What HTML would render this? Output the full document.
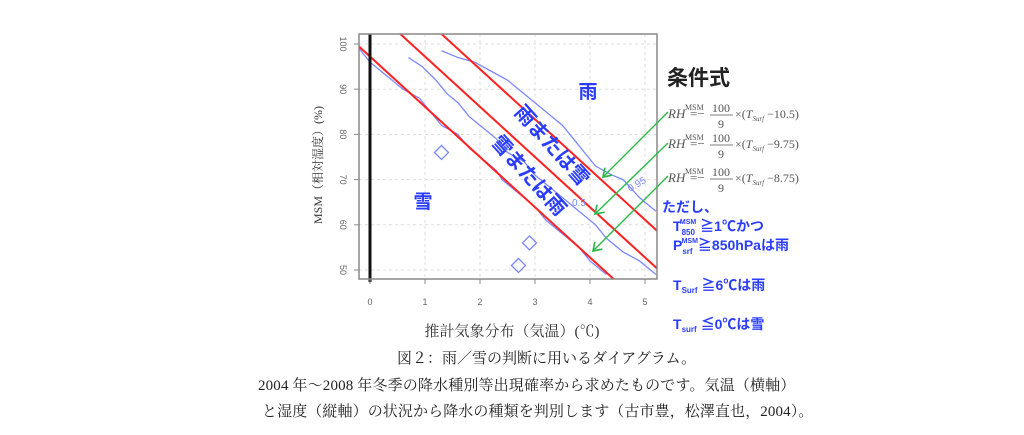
<!DOCTYPE html>
<html><head><meta charset="utf-8">
<style>
html,body{margin:0;padding:0;background:#fff;}
body{width:1024px;height:435px;overflow:hidden;position:relative;font-family:"Liberation Serif","Noto Serif CJK SC",serif;}
.cap{position:absolute;white-space:nowrap;font-size:15px;color:#222;font-family:"Liberation Serif","Noto Serif CJK SC",serif;}
</style></head>
<body>
<svg id="chart" width="1024" height="435" style="position:absolute;left:0;top:0">
  <g id="grid"></g>
  <g id="contours"></g>
  <g id="lines"></g>
  <g id="axes"></g>
  <g id="ann"></g>
</svg>
<div class="cap" style="left:397px;top:347px;">図２：雨／雪の判断に用いるダイアグラム。</div>
<div class="cap" style="left:258px;top:374px;letter-spacing:0.15px">2004 年～2008 年冬季の降水種別等出現確率から求めたものです。気温（横軸）</div>
<div class="cap" style="left:262px;top:400px;letter-spacing:0.1px">と湿度（縦軸）の状況から降水の種類を判別します（古市豊，松澤直也，2004）。</div>
<script>
const xTicks=[0,1,2,3,4,5];
const yTicks=[50,60,70,80,90,100];
const lineConsts=[10.5,9.75,8.75];
const contourUpper=[[1.3,98.5],[1.6,97],[1.9,96],[2.2,94],[2.5,92],[2.7,90],[2.9,88],[3.1,86],[3.3,84],[3.5,82],[3.7,79],[3.9,76],[4.1,73],[4.4,71],[4.6,70],[4.9,66],[5.1,64],[5.2,63]];
const contourMid=[[0.7,97],[0.95,95],[1.2,92],[1.4,89],[1.6,87],[1.8,84],[2.0,82],[2.3,79],[2.5,76],[2.8,74],[3.0,71],[3.2,69],[3.5,66],[3.8,63],[4.1,60],[4.3,57],[4.6,54],[4.9,52],[5.1,50],[5.2,49]];
const contourLower=[[-0.2,99],[0.0,96],[0.3,93],[0.6,90],[0.9,88],[1.1,85],[1.3,82],[1.6,80],[1.8,77],[2.0,75],[2.3,72],[2.4,70],[2.7,67],[3.0,64],[3.2,61],[3.5,58],[3.8,55],[4.0,52],[4.2,50],[4.3,49]];
const diamonds=[[1.3,76],[2.9,56],[2.7,51]];
const X0=370,XS=55,Y0=44,YS=4.52;
const L=359,R=657,T=34,B=279;
function sx(v){return X0+v*XS;}
function sy(v){return Y0+(100-v)*YS;}
const NS="http://www.w3.org/2000/svg";
function mk(tag,attrs,parent,text){const e=document.createElementNS(NS,tag);for(const k in attrs)e.setAttribute(k,attrs[k]);if(text!==undefined)e.textContent=text;document.getElementById(parent).appendChild(e);return e;}
const defs=document.createElementNS(NS,'defs');defs.innerHTML='<clipPath id="pc"><rect x="'+L+'" y="'+T+'" width="'+(R-L)+'" height="'+(B-T)+'"/></clipPath><marker id="ah" markerWidth="8" markerHeight="8" refX="6" refY="4" orient="auto"><path d="M0,0 L6,4 L0,8" fill="none" stroke="#2db84a" stroke-width="1.2"/></marker>';
document.getElementById('chart').prepend(defs);
['grid','contours','lines'].forEach(id=>document.getElementById(id).setAttribute('clip-path','url(#pc)'));
xTicks.forEach(v=>{const e=mk('line',{x1:sx(v),x2:sx(v),y1:T,y2:B,stroke:'#ddd','stroke-dasharray':'3,3'},'grid');});
yTicks.forEach(v=>{const e=mk('line',{x1:L,x2:R,y1:sy(v),y2:sy(v),stroke:'#ddd','stroke-dasharray':'3,3'},'grid');});
function poly(arr,name){const p=mk('polyline',{points:arr.map(d=>sx(d[0])+','+sy(d[1])).join(' '),fill:'none',stroke:'#7b88ff','stroke-width':1.3},'contours');}
poly(contourUpper,'contour-0.95');poly(contourMid,'contour-0.5');poly(contourLower,'contour-0.05');
diamonds.forEach(d=>{const cx=sx(d[0]),cy=sy(d[1]);const e=mk('polygon',{points:`${cx},${cy-7} ${cx+7},${cy} ${cx},${cy+7} ${cx-7},${cy}`,fill:'none',stroke:'#7b88ff','stroke-width':1.3},'contours');});
lineConsts.forEach(c=>{const t1=-1,t2=6;const e=mk('line',{x1:sx(t1),y1:sy(-100/9*(t1-c)),x2:sx(t2),y2:sy(-100/9*(t2-c)),stroke:'#ff2020','stroke-width':2},'lines');});
let z=mk('line',{x1:sx(0),x2:sx(0),y1:T,y2:B+3,stroke:'#111','stroke-width':3},'axes');
let fr=mk('rect',{x:L,y:T,width:R-L,height:B-T,fill:'none',stroke:'#888','stroke-width':1.5},'axes');
xTicks.forEach(v=>{let t=mk('line',{x1:sx(v),x2:sx(v),y1:B,y2:B+5,stroke:'#888'},'axes');
 let l=mk('text',{x:sx(v),y:B+26,'font-size':9,'text-anchor':'middle',fill:'#666','font-family':'Liberation Sans,sans-serif'},'axes',v);});
yTicks.forEach(v=>{let t=mk('line',{x1:L-5,x2:L,y1:sy(v),y2:sy(v),stroke:'#888'},'axes');
 let l=mk('text',{x:0,y:0,'font-size':9,'text-anchor':'middle',fill:'#666','font-family':'Liberation Sans,sans-serif',transform:`translate(340,${sy(v)}) rotate(90)`},'axes',v);});
let xt=mk('text',{x:512,y:336,'font-size':15,'text-anchor':'middle',fill:'#333'},'axes','推計気象分布（気温）(℃)');
let yt=mk('text',{x:0,y:0,'font-size':12,'text-anchor':'middle',fill:'#333',transform:'translate(322,165) rotate(-90)'},'axes','MSM（相対湿度）(%)');
const blue='#2a3cff',bf='Liberation Sans,Noto Sans CJK JP,sans-serif';
function txt(s,a,name){let e=mk('text',a,'ann',s);return e;}
txt('雨',{x:588,y:98,'font-size':19,'font-weight':'bold',fill:blue,'text-anchor':'middle','font-family':bf},'rain-label');
txt('雪',{x:423,y:208,'font-size':19,'font-weight':'bold',fill:blue,'text-anchor':'middle','font-family':bf},'snow-label');
txt('雨または雪',{x:0,y:0,'font-size':20,'font-weight':'bold',fill:blue,'text-anchor':'middle','font-family':bf,transform:'translate(547,150) rotate(48)'},'rain-or-snow-label');
txt('雪または雨',{x:0,y:0,'font-size':20,'font-weight':'bold',fill:blue,'text-anchor':'middle','font-family':bf,transform:'translate(524,180) rotate(48)'},'snow-or-rain-label');
txt('0.5',{x:572,y:206,'font-size':10,fill:'#7b88ff','font-family':bf},'contour-label-0.5');
txt('0.95',{x:630,y:192,'font-size':10,fill:'#7b88ff','font-family':bf,transform:'rotate(-30 630 192)'},'contour-label-0.95');
txt('条件式',{x:667,y:85,'font-size':21,'font-weight':'bold',fill:'#222','font-family':bf},'conditions-title');
const fy=[118,148,182],fc=['10.5','9.75','8.75'];
fc.forEach((c,i)=>{const y=fy[i];const g=mk('g',{fill:'#555','font-family':'Liberation Serif,serif'},'ann');
 g.innerHTML=`<text x="668" y="${y}" font-size="13" font-style="italic">RH</text><text x="685" y="${y-8}" font-size="8">MSM</text><text x="690" y="${y}" font-size="13">=−</text><text x="712" y="${y-6}" font-size="12">100</text><line x1="710" x2="733" y1="${y-3}" y2="${y-3}" stroke="#555" stroke-width="0.8"/><text x="718" y="${y+10}" font-size="12">9</text><text x="735" y="${y}" font-size="12">×(<tspan font-style="italic">T</tspan><tspan font-size="7" font-style="italic" dy="3">Surf</tspan><tspan dy="-3"> −${c})</tspan></text>`;});
[[668,112,603,177],[668,143,595,214],[668,176,593,251]].forEach(a=>{let e=mk('line',{x1:a[0],y1:a[1],x2:a[2],y2:a[3],stroke:'#2db84a','stroke-width':1.4,'marker-end':'url(#ah)'},'ann');});
const g2=mk('g',{fill:blue,'font-family':bf,'font-weight':'bold'},'ann');
g2.innerHTML=`<text x="662" y="212" font-size="14">ただし、</text>
<text x="673" y="231" font-size="14">T<tspan font-size="8" dy="4">850</tspan><tspan font-size="7" dx="-15" dy="-11">MSM</tspan><tspan dy="7"> ≧1℃かつ</tspan></text>
<text x="673" y="250" font-size="14">P<tspan font-size="8" dy="4">srf</tspan><tspan font-size="7" dx="-11" dy="-11">MSM</tspan><tspan dy="7">≧850hPaは雨</tspan></text>
<text x="673" y="290" font-size="14">T<tspan font-size="8" dy="3">Surf</tspan><tspan dy="-3"> ≧6℃は雨</tspan></text>
<text x="673" y="329" font-size="14">T<tspan font-size="8" dy="3">surf</tspan><tspan dy="-3"> ≦0℃は雪</tspan></text>`;
</script>
</body></html>
